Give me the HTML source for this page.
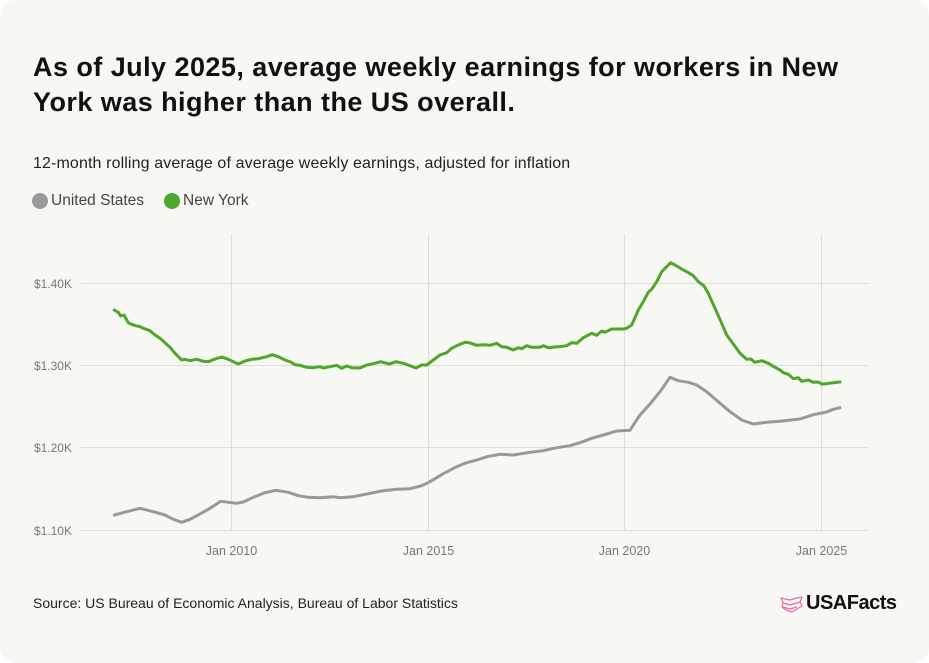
<!DOCTYPE html>
<html><head><meta charset="utf-8">
<style>
html,body{margin:0;padding:0;background:#fff;}
body{width:929px;height:663px;overflow:hidden;position:relative;font-family:"Liberation Sans",sans-serif;}
.card{position:absolute;left:0;top:0;width:929px;height:663px;background:#f7f7f3;border-radius:16px;}
.title{position:absolute;left:33px;top:50px;width:815px;font-size:27px;line-height:35px;font-weight:bold;color:#111;letter-spacing:0.45px;}
.sub{position:absolute;left:33px;top:155px;font-size:16px;color:#222;letter-spacing:0.12px;}
.leg{position:absolute;top:192px;font-size:15.5px;color:#444;}
.dot{position:absolute;top:193px;width:16px;height:16px;border-radius:50%;}
.src{position:absolute;left:33px;top:595px;font-size:14px;color:#222;}
.logo{position:absolute;left:806px;top:592px;font-size:20px;font-weight:bold;color:#111;letter-spacing:-0.5px;}
</style></head><body>
<div class="card"></div>
<div class="title">As of July 2025, average weekly earnings for workers in New York was higher than the US overall.</div>
<div class="sub">12-month rolling average of average weekly earnings, adjusted for inflation</div>
<div class="dot" style="left:32px;background:#999;"></div>
<div class="leg" style="left:51px;">United States</div>
<div class="dot" style="left:164px;background:#4ea72a;"></div>
<div class="leg" style="left:183px;">New York</div>
<svg style="position:absolute;left:0;top:0" width="929" height="663">
<g stroke="#dddddb" stroke-width="1" fill="none">
<line x1="81" y1="283.5" x2="868" y2="283.5"/>
<line x1="81" y1="365.5" x2="868" y2="365.5"/>
<line x1="81" y1="447.5" x2="868" y2="447.5"/>
<line x1="231.5" y1="234" x2="231.5" y2="530"/>
<line x1="428.5" y1="234" x2="428.5" y2="530"/>
<line x1="624.5" y1="234" x2="624.5" y2="530"/>
<line x1="821.5" y1="234" x2="821.5" y2="530"/>
<line x1="81" y1="530.5" x2="868" y2="530.5"/>
</g>
<g font-family="Liberation Sans, sans-serif" font-size="12" fill="#777" text-anchor="end">
<text x="72" y="288">$1.40K</text>
<text x="72" y="370">$1.30K</text>
<text x="72" y="452">$1.20K</text>
<text x="72" y="535">$1.10K</text>
</g>
<g font-family="Liberation Sans, sans-serif" font-size="12.5" fill="#777" text-anchor="middle">
<text x="231.5" y="555">Jan 2010</text>
<text x="428.5" y="555">Jan 2015</text>
<text x="624.5" y="555">Jan 2020</text>
<text x="821.5" y="555">Jan 2025</text>
</g>
<polyline fill="none" stroke="#999999" stroke-width="3" stroke-linejoin="round" stroke-linecap="round" points="114.3,515 126.7,511.7 140,508.3 153.3,511.7 165,515 173.3,519.3 181.7,522.3 190,519.3 200,514 210,508.3 220.7,501.3 228.3,502.3 236.7,503.3 243.3,502 253.3,497.3 265,492.7 276,490.3 288.3,492.3 298.3,495.7 308.3,497.3 320,497.7 333.3,496.7 340,497.7 353.3,496.7 366.7,494 383.3,490.7 396.7,489.3 410,488.7 421.7,485.7 430,481.7 443.3,473.7 456.7,466.7 466.7,462.7 476.7,460 488.3,456.3 500,454.3 513.3,455 530,452.3 543.3,450.7 556.7,447.7 570,445.7 580,442.7 591.7,438.3 603.3,435 616.7,431 630,430.3 633.3,425 640,415 650,404 660,391.7 670,377.3 678.3,380.7 688.3,382.3 696.7,385 706.7,391.7 718.3,401.7 730,411.7 741.7,420 753.3,424 766.7,422.3 780,421.3 800,419 813.3,414.7 826.7,412 833.3,409.3 840,407.7"/>
<polyline fill="none" stroke="#4ea72a" stroke-width="3" stroke-linejoin="round" stroke-linecap="round" points="114.3,310 118.3,312.3 120.7,316 124,315 128.3,322.7 133.3,325 140,326.7 143.3,328.3 150,330.7 155,335 160,338.3 165,342.7 170,347.3 175,353.3 181.7,360 185,359.3 190,360.7 196.7,359.3 203.3,361.3 208.3,361.7 215,359 221.7,357 228.3,359.3 233.3,361.7 238.3,364 245,361 251.7,359.3 258.3,358.7 266.7,356.7 272.3,354.7 278.3,356.7 285,360 290.7,362 295,364.7 300,365.3 306.7,367.3 313.3,367.7 320,366.7 323.3,368 330,366.7 336.7,365.3 341.7,368.3 346.7,366 351.7,367.7 360,368 366.7,365 373.3,363.7 380.7,361.7 389.3,364 396,361.7 403.3,363.3 410,365.7 416,368 421.7,365 426.7,365 433.3,360 440,355 446.7,352.7 451.7,348.3 458.3,345 465,342.3 469.3,342.7 476.7,345.3 483.3,344.7 490,345.3 496.7,343.3 501.7,346.7 506.7,347.3 513.3,350 518.3,347.7 521.7,348.7 526.7,345.7 531.7,347.3 540,347.3 543.3,345.7 548.3,347.7 556.7,346.7 560,346.7 566.7,345.7 571.7,342.7 576.7,343.3 583.3,337.7 591.7,333.3 596.7,335.3 601.7,331 605,332.3 611.7,329 623.3,329 626.7,328.3 631.7,325 638.3,310 643.3,301.7 648.3,292.3 651.7,289.3 656.7,281.7 661.7,271.7 666.7,266.7 670.7,262.7 675,265 681.7,269 688.3,272.7 693.3,275.7 698.3,281.7 704,286 708.3,293.3 715,308.3 721.7,323.3 726.7,335 733.3,344 740,353.3 746.7,359.3 750.7,359 755,362.3 761.7,360.7 768.3,363.3 775,367.3 780,370 783.3,372.7 788.3,374.3 793.3,378.7 798.3,377.7 801.7,381.3 808.3,380 813.3,382.3 818.3,382 821.7,384 826.7,383.7 833.3,382.7 840,382"/>
<g fill="none" stroke="#ee6aa7" stroke-width="1.2" stroke-linejoin="round">
<path d="M781,598 L790,600 L797,598 L802,597 L800,602 L802,606 L797,609 L792,612 L786,610 L782,607 L783,603 Z"/>
<path d="M783,603 L790,605 L797,603 L801,602"/>
<path d="M783,607 L790,609 L797,607"/>
</g>
</svg>
<div class="src">Source: US Bureau of Economic Analysis, Bureau of Labor Statistics</div>
<div class="logo">USAFacts</div>
</body></html>
